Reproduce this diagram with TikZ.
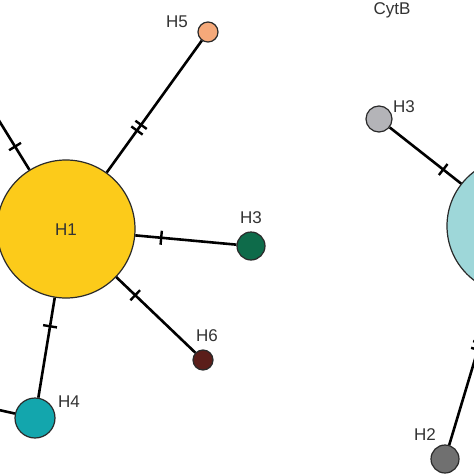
\documentclass[tikz,border=0pt]{standalone}
\usepackage{fontspec}
\setmainfont{Liberation Sans}
\usetikzlibrary{decorations.markings}
\definecolor{cH1}{HTML}{FCCB1A}
\definecolor{cH5}{HTML}{F5A97A}
\definecolor{cH3g}{HTML}{0E6B4A}
\definecolor{cH6}{HTML}{5B1E1A}
\definecolor{cH4}{HTML}{13A6AD}
\definecolor{cH3r}{HTML}{B4B4B8}
\definecolor{cH2}{HTML}{707070}
\definecolor{cBig}{HTML}{9ED7D9}
\definecolor{txt}{HTML}{333333}
\definecolor{outl}{HTML}{2A2A2A}
\tikzset{
  hap/.style 2 args={circle, draw=outl, line width=1.2pt, fill=#1, inner sep=0pt, minimum size=#2},
  lbl/.style={text=txt, font=\fontsize{17}{17}\selectfont, inner sep=0pt},
  link/.style={line width=2.6pt, black},
  onetick/.style={postaction={decorate, decoration={markings,
     mark=at position #1 with {\draw[line width=2.4pt] (0pt,-7pt) -- (0pt,7pt);}}}},
  twotick/.style={postaction={decorate, decoration={markings,
     mark=at position #1 with {\draw[line width=2.4pt] (-3.5pt,-7pt) -- (-3.5pt,7pt) (3.5pt,-7pt) -- (3.5pt,7pt);}}}}
}
\begin{document}
\begin{tikzpicture}[x=1pt,y=-1pt]
\useasboundingbox (0,0) rectangle (474,474);
\fill[white] (0,0) rectangle (474,474);
\clip (0,0) rectangle (474,474);
% left network
\node[hap={cH1}{138pt}] (H1) at (66,229) {};
\node[lbl] (H1l) at (66,230) {H1};
\node[hap={cH5}{20pt}] (H5) at (208,32) {};
\node[lbl] (H5l) at (177,22) {H5};
\node[hap={cH3g}{28pt}] (H3g) at (251,246) {};
\node[lbl] (H3gl) at (251,218) {H3};
\node[hap={cH6}{20pt}] (H6) at (203,360) {};
\node[lbl] (H6l) at (207,336) {H6};
\node[hap={cH4}{40pt}] (H4) at (35,418) {};
\node[lbl] (H4l) at (69,402) {H4};
\coordinate (UL) at (-10,106);
\coordinate (L4) at (-10,408);
\draw[link, twotick=0.34] (H1) -- (H5);
\draw[link, onetick=0.256] (H1) -- (H3g);
\draw[link, onetick=0.24] (H1) -- (H6);
\draw[link, onetick=0.286] (H1) -- (H4);
\draw[link, onetick=0.365] (H1) -- (UL);
\draw[link] (H4) -- (L4);
% right network
\node[lbl] (title) at (392,10) {CytB};
\node[hap={cBig}{136pt}] (Big) at (515,226) {};
\node[hap={cH3r}{26pt}] (H3r) at (379,119) {};
\node[lbl] (H3rl) at (404,107) {H3};
\node[hap={cH2}{28pt}] (H2) at (445,459) {};
\node[lbl] (H2l) at (425,435) {H2};
\draw[link, onetick=0.75] (H3r) -- (Big);
\draw[link, twotick=0.357] (Big) -- (H2);
\end{tikzpicture}
\end{document}
